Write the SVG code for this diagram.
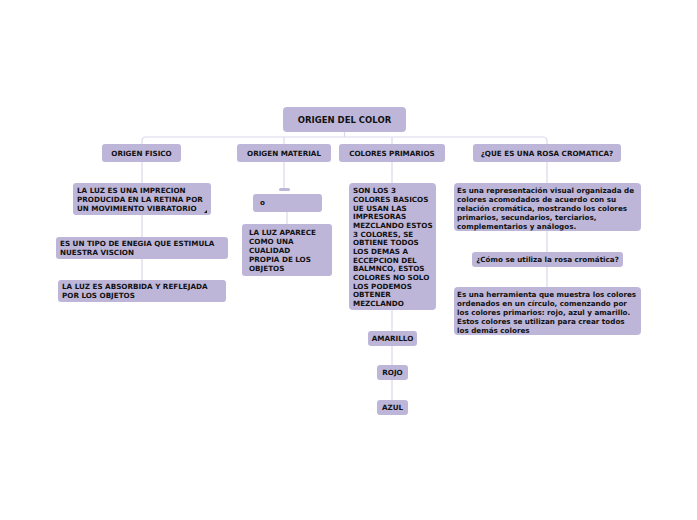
<svg xmlns="http://www.w3.org/2000/svg" width="697" height="520" viewBox="0 0 697 520">
<style>
.n{fill:#bdb6d9}
.t{font-family:"DejaVu Sans",Verdana,sans-serif;font-weight:bold;font-size:7.2px;fill:#111}
.c{stroke:#dcd8ec;stroke-width:1.2;fill:none}
</style>
<rect width="697" height="520" fill="#fff"/>
<g id="connectors" class="c">
<path d="M344.5 132V137M142 144V141Q142 137 146 137H543Q547 137 547 141V144M284 137V144M392 137V144"/>
<path d="M142 162V280M284 162V188M287 212V224M392 162V400M547 162V287"/>
</g>
<g id="root"><rect class="n" x="283" y="107" width="123" height="25" rx="4"/><text class="t" x="344.5" y="123" text-anchor="middle" style="font-size:8.5px">ORIGEN DEL COLOR</text></g>
<g id="fisico"><rect class="n" x="102" y="144" width="79" height="18" rx="3"/><text class="t" x="141.5" y="156" text-anchor="middle">ORIGEN FISICO</text></g>
<g id="material"><rect class="n" x="237" y="144" width="94" height="18" rx="3"/><text class="t" x="284" y="156" text-anchor="middle">ORIGEN MATERIAL</text></g>
<g id="primarios"><rect class="n" x="339" y="144" width="106" height="18" rx="3"/><text class="t" x="392" y="156" text-anchor="middle">COLORES PRIMARIOS</text></g>
<g id="rosa"><rect class="n" x="473" y="144" width="148" height="18" rx="3"/><text class="t" x="547" y="156" text-anchor="middle">¿QUE ES UNA ROSA CROMATICA?</text></g>
<g id="f1"><rect class="n" x="73" y="183" width="138" height="32" rx="3"/><text class="t" x="77" y="193">LA LUZ ES UNA IMPRECION</text><text class="t" x="77" y="202">PRODUCIDA EN LA RETINA POR</text><text class="t" x="77" y="211">UN MOVIMIENTO VIBRATORIO</text><path d="M207 210V213H204Z" fill="#111"/></g>
<g id="f2"><rect class="n" x="56" y="237" width="172" height="22" rx="3"/><text class="t" x="60" y="246">ES UN TIPO DE ENEGIA QUE ESTIMULA</text><text class="t" x="60" y="255">NUESTRA VISCION</text></g>
<g id="f3"><rect class="n" x="58" y="280" width="168" height="22" rx="3"/><text class="t" x="62" y="289">LA LUZ ES ABSORBIDA Y REFLEJADA</text><text class="t" x="62" y="298">POR LOS OBJETOS</text></g>
<g id="m0"><rect class="n" x="279" y="188" width="11" height="3" rx="1.5"/></g>
<g id="m1"><rect class="n" x="253" y="194" width="69" height="18" rx="3"/><text class="t" x="260" y="205">o</text></g>
<g id="m2"><rect class="n" x="242" y="224" width="90" height="52" rx="3"/><text class="t" x="249" y="235">LA LUZ APARECE</text><text class="t" x="249" y="244">COMO UNA</text><text class="t" x="249" y="253">CUALIDAD</text><text class="t" x="249" y="262">PROPIA DE LOS</text><text class="t" x="249" y="271">OBJETOS</text></g>
<g id="p1"><rect class="n" x="349" y="183" width="87" height="127" rx="4"/>
<text class="t" x="353" y="193">SON LOS 3</text><text class="t" x="353" y="202">COLORES BASICOS</text><text class="t" x="353" y="210.5">UE USAN LAS</text><text class="t" x="353" y="219">IMPRESORAS</text><text class="t" x="353" y="228">MEZCLANDO ESTOS</text><text class="t" x="353" y="236.5">3 COLORES, SE</text><text class="t" x="353" y="245">OBTIENE TODOS</text><text class="t" x="353" y="254">LOS DEMAS A</text><text class="t" x="353" y="262.5">ECCEPCION DEL</text><text class="t" x="353" y="271">BALMNCO, ESTOS</text><text class="t" x="353" y="280">COLORES NO SOLO</text><text class="t" x="353" y="288.5">LOS PODEMOS</text><text class="t" x="353" y="297">OBTENER</text><text class="t" x="353" y="306">MEZCLANDO</text></g>
<g id="amarillo"><rect class="n" x="368" y="331" width="49" height="15" rx="3"/><text class="t" x="392.5" y="341" text-anchor="middle">AMARILLO</text></g>
<g id="rojo"><rect class="n" x="377" y="365" width="31" height="15" rx="3"/><text class="t" x="392.5" y="375" text-anchor="middle">ROJO</text></g>
<g id="azul"><rect class="n" x="377" y="400" width="31" height="15" rx="3"/><text class="t" x="392.5" y="410" text-anchor="middle">AZUL</text></g>
<g id="r1"><rect class="n" x="454" y="183" width="187" height="48" rx="4"/><text class="t" x="457" y="193"> Es una representación visual organizada de</text><text class="t" x="457" y="202">colores acomodados de acuerdo con su</text><text class="t" x="457" y="211">relación cromática, mostrando los colores</text><text class="t" x="457" y="220">primarios, secundarios, terciarios,</text><text class="t" x="457" y="229">complementarios y análogos.</text></g>
<g id="r2"><rect class="n" x="472" y="252" width="151" height="15" rx="3"/><text class="t" x="547.5" y="262" text-anchor="middle">¿Cómo se utiliza la rosa cromática?</text></g>
<g id="r3"><rect class="n" x="454" y="287" width="187" height="48" rx="4"/><text class="t" x="457" y="297">Es una herramienta que muestra los colores</text><text class="t" x="457" y="306">ordenados en un círculo, comenzando por</text><text class="t" x="457" y="315">los colores primarios: rojo, azul y amarillo.</text><text class="t" x="457" y="324">Estos colores se utilizan para crear todos</text><text class="t" x="457" y="333">los demás colores</text></g>
</svg>
